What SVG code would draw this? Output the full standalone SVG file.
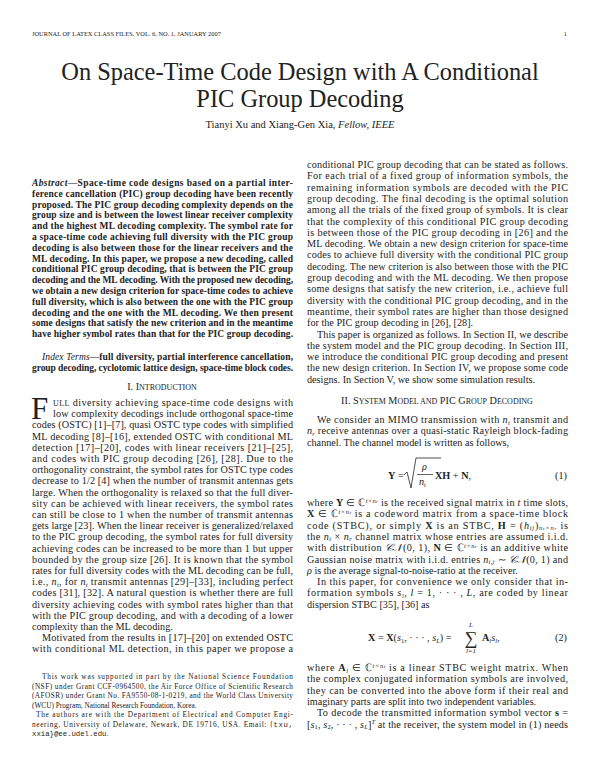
<svg xmlns="http://www.w3.org/2000/svg" width="600" height="776" viewBox="0 0 600 776">
<style>
text{font-family:"Liberation Serif","Times New Roman",serif;fill:#222}
.b{font-size:10.2px}
.ab{font-size:9.5px;font-weight:bold}
.fn{font-size:7.3px}
.h{font-size:6.4px}
.sc{font-size:10.2px}
.i{font-style:italic}
.m{font-family:"Liberation Mono",monospace}
.bf{font-weight:bold}
</style>
<rect width="600" height="776" fill="#fff"/>
<g id="header">
<text class="h" x="32" y="36">JOURNAL OF LATEX CLASS FILES, VOL. 6, NO. 1, JANUARY 2007</text>
<text class="h" x="567" y="36" text-anchor="end">1</text>
</g>
<g id="title">
<text x="300" y="80" text-anchor="middle" font-size="24.4">On Space-Time Code Design with A Conditional</text>
<text x="300" y="107" text-anchor="middle" font-size="24.4">PIC Group Decoding</text>
<text x="300" y="128" text-anchor="middle" font-size="10.5">Tianyi Xu  and  Xiang-Gen Xia, <tspan class="i">Fellow, IEEE</tspan></text>
</g>
<g id="left">
<text class="ab" x="32" y="186" textLength="261" lengthAdjust="spacing"><tspan class="i">   Abstract</tspan>—Space-time code designs based on a partial inter-</text>
<text class="ab" x="32" y="196.8" textLength="261" lengthAdjust="spacing">ference cancellation (PIC) group decoding have been recently</text>
<text class="ab" x="32" y="207.6" textLength="261" lengthAdjust="spacing">proposed. The PIC group decoding complexity depends on the</text>
<text class="ab" x="32" y="218.4" textLength="261" lengthAdjust="spacing">group size and is between the lowest linear receiver complexity</text>
<text class="ab" x="32" y="229.2" textLength="261" lengthAdjust="spacing">and the highest ML decoding complexity. The symbol rate for</text>
<text class="ab" x="32" y="240" textLength="261" lengthAdjust="spacing">a space-time code achieving full diversity with the PIC group</text>
<text class="ab" x="32" y="250.8" textLength="261" lengthAdjust="spacing">decoding is also between those for the linear receivers and the</text>
<text class="ab" x="32" y="261.6" textLength="261" lengthAdjust="spacing">ML decoding. In this paper, we propose a new decoding, called</text>
<text class="ab" x="32" y="272.4" textLength="261" lengthAdjust="spacing">conditional PIC group decoding, that is between the PIC group</text>
<text class="ab" x="32" y="283.2" textLength="261" lengthAdjust="spacing">decoding and the ML decoding. With the proposed new decoding,</text>
<text class="ab" x="32" y="294" textLength="261" lengthAdjust="spacing">we obtain a new design criterion for space-time codes to achieve</text>
<text class="ab" x="32" y="304.8" textLength="261" lengthAdjust="spacing">full diversity, which is also between the one with the PIC group</text>
<text class="ab" x="32" y="315.6" textLength="261" lengthAdjust="spacing">decoding and the one with the ML decoding. We then present</text>
<text class="ab" x="32" y="326.4" textLength="261" lengthAdjust="spacing">some designs that satisfy the new criterion and in the meantime</text>
<text class="ab" x="32" y="337.2" textLength="261" lengthAdjust="spacing">have higher symbol rates than that for the PIC group decoding.</text>
<text class="ab" x="42" y="360" textLength="251" lengthAdjust="spacing"><tspan class="i" font-weight="normal">Index Terms</tspan>—full diversity, partial interference cancellation,</text>
<text class="ab" x="32" y="371" textLength="261" lengthAdjust="spacing">group decoding, cyclotomic lattice design, space-time block codes.</text>
<text class="sc" x="162" y="390" text-anchor="middle">I. I<tspan font-size="8">NTRODUCTION</tspan></text>
<g transform="translate(0,-9)">
<text x="31" y="428" font-size="31">F</text>
<text class="b" x="53" y="415" textLength="240" lengthAdjust="spacing"><tspan font-size="8">ULL</tspan> diversity achieving space-time code designs with</text>
<text class="b" x="53" y="426.2" textLength="240" lengthAdjust="spacing">low complexity decodings include orthogonal space-time</text>
<text class="b" x="32" y="437.4" textLength="261" lengthAdjust="spacing">codes (OSTC) [1]–[7], quasi OSTC type codes with simplified</text>
<text class="b" x="32" y="448.6" textLength="261" lengthAdjust="spacing">ML decoding [8]–[16], extended OSTC with conditional ML</text>
<text class="b" x="32" y="459.8" textLength="261" lengthAdjust="spacing">detection [17]–[20], codes with linear receivers [21]–[25],</text>
<text class="b" x="32" y="471" textLength="261" lengthAdjust="spacing">and codes with PIC group decoding [26], [28]. Due to the</text>
<text class="b" x="32" y="482.2" textLength="261" lengthAdjust="spacing">orthogonality constraint, the symbol rates for OSTC type codes</text>
<text class="b" x="32" y="493.4" textLength="261" lengthAdjust="spacing">decrease to 1/2 [4] when the number of transmit antennas gets</text>
<text class="b" x="32" y="504.6" textLength="261" lengthAdjust="spacing">large. When the orthogonality is relaxed so that the full diver-</text>
<text class="b" x="32" y="515.8" textLength="261" lengthAdjust="spacing">sity can be achieved with linear receivers, the symbol rates</text>
<text class="b" x="32" y="527" textLength="261" lengthAdjust="spacing">can still be close to 1 when the number of transmit antennas</text>
<text class="b" x="32" y="538.2" textLength="261" lengthAdjust="spacing">gets large [23]. When the linear receiver is generalized/relaxed</text>
<text class="b" x="32" y="549.4" textLength="261" lengthAdjust="spacing">to the PIC group decoding, the symbol rates for full diversity</text>
<text class="b" x="32" y="560.6" textLength="261" lengthAdjust="spacing">achieving codes can be increased to be more than 1 but upper</text>
<text class="b" x="32" y="571.8" textLength="261" lengthAdjust="spacing">bounded by the group size [26]. It is known that the symbol</text>
<text class="b" x="32" y="583" textLength="261" lengthAdjust="spacing">rates for full diversity codes with the ML decoding can be full,</text>
<text class="b" x="32" y="594.2" textLength="261" lengthAdjust="spacing">i.e., <tspan class="i">n<tspan font-size="6.5" dy="1.5">t</tspan></tspan><tspan dy="-1.5">, for </tspan><tspan class="i">n<tspan font-size="6.5" dy="1.5">t</tspan></tspan><tspan dy="-1.5"> transmit antennas [29]–[33], including perfect</tspan></text>
<text class="b" x="32" y="605.4" textLength="261" lengthAdjust="spacing">codes [31], [32]. A natural question is whether there are full</text>
<text class="b" x="32" y="616.6" textLength="261" lengthAdjust="spacing">diversity achieving codes with symbol rates higher than that</text>
<text class="b" x="32" y="627.8" textLength="261" lengthAdjust="spacing">with the PIC group decoding, and with a decoding of a lower</text>
<text class="b" x="32" y="639">complexity than the ML decoding.</text>
<text class="b" x="42" y="650.2" textLength="251" lengthAdjust="spacing">Motivated from the results in [17]–[20] on extended OSTC</text>
<text class="b" x="32" y="661.4" textLength="261" lengthAdjust="spacing">with conditional ML detection, in this paper we propose a</text>
</g>
<text class="fn" x="42" y="679" textLength="251" lengthAdjust="spacing">This work was supported in part by the National Science Foundation</text>
<text class="fn" x="32" y="688.5" textLength="261" lengthAdjust="spacing">(NSF) under Grant CCF-0964500, the Air Force Office of Scientific Research</text>
<text class="fn" x="32" y="698" textLength="261" lengthAdjust="spacing">(AFOSR) under Grant No. FA9550-08-1-0219, and the World Class University</text>
<text class="fn" x="32" y="707.5">(WCU) Program, National Research Foundation, Korea.</text>
<text class="fn" x="36" y="717" textLength="257" lengthAdjust="spacing">The authors are with the Department of Electrical and Computer Engi-</text>
<text class="fn" x="32" y="726.5" textLength="261" lengthAdjust="spacing">neering, University of Delaware, Newark, DE 19716, USA. Email: {<tspan class="m">txu,</tspan></text>
<text class="fn m" x="32" y="736">xxia}@ee.udel.edu<tspan font-family="Liberation Serif">.</tspan></text>
</g>
<g id="right" transform="translate(0,-4)">
<text class="b" x="307" y="172" textLength="261" lengthAdjust="spacing">conditional PIC group decoding that can be stated as follows.</text>
<text class="b" x="307" y="183.3" textLength="261" lengthAdjust="spacing">For each trial of a fixed group of information symbols, the</text>
<text class="b" x="307" y="194.6" textLength="261" lengthAdjust="spacing">remaining information symbols are decoded with the PIC</text>
<text class="b" x="307" y="205.9" textLength="261" lengthAdjust="spacing">group decoding. The final decoding is the optimal solution</text>
<text class="b" x="307" y="217.2" textLength="261" lengthAdjust="spacing">among all the trials of the fixed group of symbols. It is clear</text>
<text class="b" x="307" y="228.5" textLength="261" lengthAdjust="spacing">that the complexity of this conditional PIC group decoding</text>
<text class="b" x="307" y="239.8" textLength="261" lengthAdjust="spacing">is between those of the PIC group decoding in [26] and the</text>
<text class="b" x="307" y="251.1" textLength="261" lengthAdjust="spacing">ML decoding. We obtain a new design criterion for space-time</text>
<text class="b" x="307" y="262.4" textLength="261" lengthAdjust="spacing">codes to achieve full diversity with the conditional PIC group</text>
<text class="b" x="307" y="273.7" textLength="261" lengthAdjust="spacing">decoding. The new criterion is also between those with the PIC</text>
<text class="b" x="307" y="285" textLength="261" lengthAdjust="spacing">group decoding and with the ML decoding. We then propose</text>
<text class="b" x="307" y="296.3" textLength="261" lengthAdjust="spacing">some designs that satisfy the new criterion, i.e., achieve full</text>
<text class="b" x="307" y="307.6" textLength="261" lengthAdjust="spacing">diversity with the conditional PIC group decoding, and in the</text>
<text class="b" x="307" y="318.9" textLength="261" lengthAdjust="spacing">meantime, their symbol rates are higher than those designed</text>
<text class="b" x="307" y="330.2">for the PIC group decoding in [26], [28].</text>
<text class="b" x="317" y="341.5" textLength="251" lengthAdjust="spacing">This paper is organized as follows. In Section II, we describe</text>
<text class="b" x="307" y="352.8" textLength="261" lengthAdjust="spacing">the system model and the PIC group decoding. In Section III,</text>
<text class="b" x="307" y="364.1" textLength="261" lengthAdjust="spacing">we introduce the conditional PIC group decoding and present</text>
<text class="b" x="307" y="375.4" textLength="261" lengthAdjust="spacing">the new design criterion. In Section IV, we propose some code</text>
<text class="b" x="307" y="386.7">designs. In Section V, we show some simulation results.</text>
<text class="sc" x="437" y="408" text-anchor="middle">II. S<tspan font-size="8">YSTEM</tspan> M<tspan font-size="8">ODEL AND</tspan> PIC G<tspan font-size="8">ROUP</tspan> D<tspan font-size="8">ECODING</tspan></text>
<text class="b" x="317" y="427" textLength="251" lengthAdjust="spacing">We consider an MIMO transmission with <tspan class="i">n<tspan font-size="6.5" dy="1.5">t</tspan></tspan><tspan dy="-1.5"> transmit and</tspan></text>
<text class="b" x="307" y="438.3" textLength="261" lengthAdjust="spacing"><tspan class="i">n<tspan font-size="6.5" dy="1.5">r</tspan></tspan><tspan dy="-1.5"> receive antennas over a quasi-static Rayleigh block-fading</tspan></text>
<text class="b" x="307" y="449.6">channel. The channel model is written as follows,</text>
<g id="eq1">
<text class="b" x="388" y="483"><tspan class="bf">Y</tspan> =</text>
<path d="M404 479 L407 476 L411 492 L416 462 L441 462" fill="none" stroke="#222" stroke-width="0.8"/>
<text class="b i" x="422" y="474">ρ</text>
<line x1="417" y1="478.5" x2="433" y2="478.5" stroke="#222" stroke-width="0.7"/>
<text class="b i" x="419" y="489" font-size="8.5">n<tspan font-size="6" dy="1.5">t</tspan></text>
<text class="b" x="435" y="483"><tspan class="bf">XH</tspan> + <tspan class="bf">N</tspan>,</text>
<text class="b" x="567" y="483" text-anchor="end">(1)</text>
</g>
<text class="b" x="307" y="510" textLength="261" lengthAdjust="spacing">where <tspan class="bf">Y</tspan> ∈ ℂ<tspan font-size="6.5" dy="-3.5" class="i">t×n<tspan font-size="5">r</tspan></tspan><tspan dy="3.5"> is the received signal matrix in </tspan><tspan class="i">t</tspan> time slots,</text>
<text class="b" x="307" y="521.3" textLength="261" lengthAdjust="spacing"><tspan class="bf">X</tspan> ∈ ℂ<tspan font-size="6.5" dy="-3.5" class="i">t×n<tspan font-size="5">t</tspan></tspan><tspan dy="3.5"> is a codeword matrix from a space-time block</tspan></text>
<text class="b" x="307" y="532.6" textLength="261" lengthAdjust="spacing">code (STBC), or simply <tspan class="bf">X</tspan> is an STBC, <tspan class="bf">H</tspan> = (<tspan class="i">h<tspan font-size="6.5" dy="1.5">ij</tspan></tspan><tspan dy="-1.5">)</tspan><tspan font-size="6.5" dy="1.5" class="i">n<tspan font-size="5">t</tspan>×n<tspan font-size="5">r</tspan></tspan><tspan dy="-1.5"> is</tspan></text>
<text class="b" x="307" y="543.9" textLength="261" lengthAdjust="spacing">the <tspan class="i">n<tspan font-size="6.5" dy="1.5">t</tspan></tspan><tspan dy="-1.5"> × </tspan><tspan class="i">n<tspan font-size="6.5" dy="1.5">r</tspan></tspan><tspan dy="-1.5"> channel matrix whose entries are assumed i.i.d.</tspan></text>
<text class="b" x="307" y="555.2" textLength="261" lengthAdjust="spacing">with distribution <tspan class="i">𝒞𝒩</tspan>(0, 1), <tspan class="bf">N</tspan> ∈ ℂ<tspan font-size="6.5" dy="-3.5" class="i">t×n<tspan font-size="5">r</tspan></tspan><tspan dy="3.5"> is an additive white</tspan></text>
<text class="b" x="307" y="566.5" textLength="261" lengthAdjust="spacing">Gaussian noise matrix with i.i.d. entries <tspan class="i">n<tspan font-size="6.5" dy="1.5">i,j</tspan></tspan><tspan dy="-1.5"> ∼ </tspan><tspan class="i">𝒞𝒩</tspan>(0, 1) and</text>
<text class="b" x="307" y="577.8"><tspan class="i">ρ</tspan> is the average signal-to-noise-ratio at the receiver.</text>
<text class="b" x="317" y="589.1" textLength="251" lengthAdjust="spacing">In this paper, for convenience we only consider that in-</text>
<text class="b" x="307" y="600.4" textLength="261" lengthAdjust="spacing">formation symbols <tspan class="i">s<tspan font-size="6.5" dy="1.5">l</tspan></tspan><tspan dy="-1.5">, </tspan><tspan class="i">l</tspan> = 1, · · · , <tspan class="i">L</tspan>, are coded by linear</text>
<text class="b" x="307" y="611.7">dispersion STBC [35], [36] as</text>
<g id="eq2">
<text class="b" x="368" y="645"><tspan class="bf">X</tspan> = <tspan class="bf">X</tspan>(<tspan class="i">s</tspan><tspan font-size="6.5" dy="1.5">1</tspan><tspan dy="-1.5">, · · · , </tspan><tspan class="i">s<tspan font-size="6.5" dy="1.5">L</tspan></tspan><tspan dy="-1.5">) =</tspan></text>
<text x="471" y="648" font-size="18" text-anchor="middle">∑</text>
<text class="i" x="471" y="631" font-size="7" text-anchor="middle">L</text>
<text class="i" x="471" y="657" font-size="7" text-anchor="middle">l=1</text>
<text class="b" x="482" y="645"><tspan class="bf">A</tspan><tspan class="i" font-size="6.5" dy="1.5">l</tspan><tspan class="i" dy="-1.5">s<tspan font-size="6.5" dy="1.5">l</tspan></tspan><tspan dy="-1.5">,</tspan></text>
<text class="b" x="567" y="645" text-anchor="end">(2)</text>
</g>
<text class="b" x="307" y="675" textLength="261" lengthAdjust="spacing">where <tspan class="bf">A</tspan><tspan class="i" font-size="6.5" dy="1.5">l</tspan><tspan dy="-1.5"> ∈ ℂ</tspan><tspan font-size="6.5" dy="-3.5" class="i">t×n<tspan font-size="5">t</tspan></tspan><tspan dy="3.5"> is a linear STBC weight matrix. When</tspan></text>
<text class="b" x="307" y="686.3" textLength="261" lengthAdjust="spacing">the complex conjugated information symbols are involved,</text>
<text class="b" x="307" y="697.6" textLength="261" lengthAdjust="spacing">they can be converted into the above form if their real and</text>
<text class="b" x="307" y="708.9">imaginary parts are split into two independent variables.</text>
<text class="b" x="317" y="720.2" textLength="251" lengthAdjust="spacing">To decode the transmitted information symbol vector <tspan class="bf">s</tspan> =</text>
<text class="b" x="307" y="731.5" textLength="261" lengthAdjust="spacing">[<tspan class="i">s</tspan><tspan font-size="6.5" dy="1.5">1</tspan><tspan dy="-1.5">, </tspan><tspan class="i">s</tspan><tspan font-size="6.5" dy="1.5">2</tspan><tspan dy="-1.5">, · · · , </tspan><tspan class="i">s<tspan font-size="6.5" dy="1.5">L</tspan></tspan><tspan dy="-1.5">]</tspan><tspan font-size="6.5" dy="-3.5" class="i">T</tspan><tspan dy="3.5"> at the receiver, the system model in (1) needs</tspan></text>
</g>
</svg>
